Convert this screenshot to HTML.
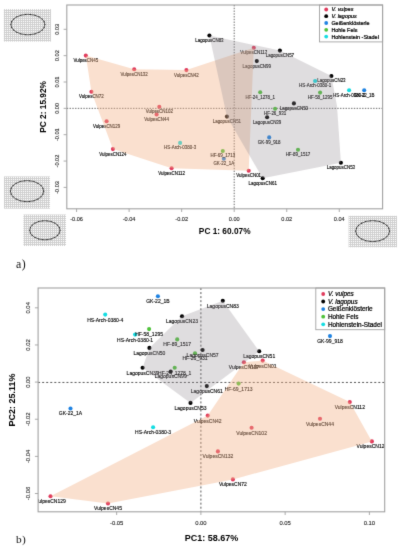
<!DOCTYPE html><html><head><meta charset="utf-8"><style>html,body{margin:0;padding:0;background:#fff;}svg{display:block;will-change:transform;}</style></head><body>
<svg width="399" height="550" viewBox="0 0 399 550">
<defs><pattern id="grid" width="2" height="2" patternUnits="userSpaceOnUse"><rect width="2" height="2" fill="#fff"/><path d="M0 0.5H2M0.5 0V2" stroke="#d0d0d0" stroke-width="1"/></pattern></defs>
<filter id="bl" x="0" y="0" width="399" height="550" filterUnits="userSpaceOnUse" color-interpolation-filters="sRGB"><feConvolveMatrix order="3" kernelMatrix="0.016 0.125 0.016 0.125 1 0.125 0.016 0.125 0.016" edgeMode="duplicate" preserveAlpha="true"/></filter>
<rect width="399" height="550" fill="#fff"/><g filter="url(#bl)"><rect width="399" height="550" fill="#fff"/>
<rect x="3.8" y="9.1" width="47.2" height="32.5" fill="url(#grid)" />
<ellipse cx="27.9" cy="24.549999999999997" rx="17.0" ry="10.249999999999998" fill="none" stroke="#333" stroke-width="0.75"/>
<circle cx="44.90" cy="24.55" r="0.55" fill="#222"/>
<circle cx="44.21" cy="27.44" r="0.55" fill="#222"/>
<circle cx="42.20" cy="30.09" r="0.55" fill="#222"/>
<circle cx="39.03" cy="32.30" r="0.55" fill="#222"/>
<circle cx="34.96" cy="33.87" r="0.55" fill="#222"/>
<circle cx="30.32" cy="34.70" r="0.55" fill="#222"/>
<circle cx="25.48" cy="34.70" r="0.55" fill="#222"/>
<circle cx="20.84" cy="33.87" r="0.55" fill="#222"/>
<circle cx="16.77" cy="32.30" r="0.55" fill="#222"/>
<circle cx="13.60" cy="30.09" r="0.55" fill="#222"/>
<circle cx="11.59" cy="27.44" r="0.55" fill="#222"/>
<circle cx="10.90" cy="24.55" r="0.55" fill="#222"/>
<circle cx="11.59" cy="21.66" r="0.55" fill="#222"/>
<circle cx="13.60" cy="19.01" r="0.55" fill="#222"/>
<circle cx="16.77" cy="16.80" r="0.55" fill="#222"/>
<circle cx="20.84" cy="15.23" r="0.55" fill="#222"/>
<circle cx="25.48" cy="14.40" r="0.55" fill="#222"/>
<circle cx="30.32" cy="14.40" r="0.55" fill="#222"/>
<circle cx="34.96" cy="15.23" r="0.55" fill="#222"/>
<circle cx="39.03" cy="16.80" r="0.55" fill="#222"/>
<circle cx="42.20" cy="19.01" r="0.55" fill="#222"/>
<circle cx="44.21" cy="21.66" r="0.55" fill="#222"/>
<rect x="4" y="176.4" width="46" height="32.29999999999998" fill="url(#grid)" />
<ellipse cx="27.05" cy="191.14999999999998" rx="16.650000000000002" ry="10.549999999999997" fill="none" stroke="#333" stroke-width="0.75"/>
<circle cx="43.70" cy="191.15" r="0.55" fill="#222"/>
<circle cx="43.03" cy="194.12" r="0.55" fill="#222"/>
<circle cx="41.06" cy="196.85" r="0.55" fill="#222"/>
<circle cx="37.95" cy="199.12" r="0.55" fill="#222"/>
<circle cx="33.97" cy="200.75" r="0.55" fill="#222"/>
<circle cx="29.42" cy="201.59" r="0.55" fill="#222"/>
<circle cx="24.68" cy="201.59" r="0.55" fill="#222"/>
<circle cx="20.13" cy="200.75" r="0.55" fill="#222"/>
<circle cx="16.15" cy="199.12" r="0.55" fill="#222"/>
<circle cx="13.04" cy="196.85" r="0.55" fill="#222"/>
<circle cx="11.07" cy="194.12" r="0.55" fill="#222"/>
<circle cx="10.40" cy="191.15" r="0.55" fill="#222"/>
<circle cx="11.07" cy="188.18" r="0.55" fill="#222"/>
<circle cx="13.04" cy="185.45" r="0.55" fill="#222"/>
<circle cx="16.15" cy="183.18" r="0.55" fill="#222"/>
<circle cx="20.13" cy="181.55" r="0.55" fill="#222"/>
<circle cx="24.68" cy="180.71" r="0.55" fill="#222"/>
<circle cx="29.42" cy="180.71" r="0.55" fill="#222"/>
<circle cx="33.97" cy="181.55" r="0.55" fill="#222"/>
<circle cx="37.95" cy="183.18" r="0.55" fill="#222"/>
<circle cx="41.06" cy="185.45" r="0.55" fill="#222"/>
<circle cx="43.03" cy="188.18" r="0.55" fill="#222"/>
<rect x="23.4" y="214.5" width="42.6" height="31.5" fill="url(#grid)" />
<ellipse cx="44.85" cy="230.25" rx="15.15" ry="9.550000000000011" fill="none" stroke="#333" stroke-width="0.75"/>
<circle cx="60.00" cy="230.25" r="0.55" fill="#222"/>
<circle cx="59.39" cy="232.94" r="0.55" fill="#222"/>
<circle cx="57.59" cy="235.41" r="0.55" fill="#222"/>
<circle cx="54.77" cy="237.47" r="0.55" fill="#222"/>
<circle cx="51.14" cy="238.94" r="0.55" fill="#222"/>
<circle cx="47.01" cy="239.70" r="0.55" fill="#222"/>
<circle cx="42.69" cy="239.70" r="0.55" fill="#222"/>
<circle cx="38.56" cy="238.94" r="0.55" fill="#222"/>
<circle cx="34.93" cy="237.47" r="0.55" fill="#222"/>
<circle cx="32.11" cy="235.41" r="0.55" fill="#222"/>
<circle cx="30.31" cy="232.94" r="0.55" fill="#222"/>
<circle cx="29.70" cy="230.25" r="0.55" fill="#222"/>
<circle cx="30.31" cy="227.56" r="0.55" fill="#222"/>
<circle cx="32.11" cy="225.09" r="0.55" fill="#222"/>
<circle cx="34.93" cy="223.03" r="0.55" fill="#222"/>
<circle cx="38.56" cy="221.56" r="0.55" fill="#222"/>
<circle cx="42.69" cy="220.80" r="0.55" fill="#222"/>
<circle cx="47.01" cy="220.80" r="0.55" fill="#222"/>
<circle cx="51.14" cy="221.56" r="0.55" fill="#222"/>
<circle cx="54.77" cy="223.03" r="0.55" fill="#222"/>
<circle cx="57.59" cy="225.09" r="0.55" fill="#222"/>
<circle cx="59.39" cy="227.56" r="0.55" fill="#222"/>
<rect x="348.6" y="215.8" width="48.39999999999998" height="31.5" fill="url(#grid)" />
<ellipse cx="372.65" cy="231.1" rx="16.950000000000017" ry="10.5" fill="none" stroke="#333" stroke-width="0.75"/>
<circle cx="389.60" cy="231.10" r="0.55" fill="#222"/>
<circle cx="388.91" cy="234.06" r="0.55" fill="#222"/>
<circle cx="386.91" cy="236.78" r="0.55" fill="#222"/>
<circle cx="383.75" cy="239.04" r="0.55" fill="#222"/>
<circle cx="379.69" cy="240.65" r="0.55" fill="#222"/>
<circle cx="375.06" cy="241.49" r="0.55" fill="#222"/>
<circle cx="370.24" cy="241.49" r="0.55" fill="#222"/>
<circle cx="365.61" cy="240.65" r="0.55" fill="#222"/>
<circle cx="361.55" cy="239.04" r="0.55" fill="#222"/>
<circle cx="358.39" cy="236.78" r="0.55" fill="#222"/>
<circle cx="356.39" cy="234.06" r="0.55" fill="#222"/>
<circle cx="355.70" cy="231.10" r="0.55" fill="#222"/>
<circle cx="356.39" cy="228.14" r="0.55" fill="#222"/>
<circle cx="358.39" cy="225.42" r="0.55" fill="#222"/>
<circle cx="361.55" cy="223.16" r="0.55" fill="#222"/>
<circle cx="365.61" cy="221.55" r="0.55" fill="#222"/>
<circle cx="370.24" cy="220.71" r="0.55" fill="#222"/>
<circle cx="375.06" cy="220.71" r="0.55" fill="#222"/>
<circle cx="379.69" cy="221.55" r="0.55" fill="#222"/>
<circle cx="383.75" cy="223.16" r="0.55" fill="#222"/>
<circle cx="386.91" cy="225.42" r="0.55" fill="#222"/>
<circle cx="388.91" cy="228.14" r="0.55" fill="#222"/>
<defs><clipPath id="clipA"><rect x="66.8" y="5.0" width="315.8" height="203.8"/></clipPath></defs>
<g clip-path="url(#clipA)">
<line x1="66.8" y1="108.35" x2="382.6" y2="108.35" stroke="#444444" stroke-width="0.8" stroke-dasharray="1.4 1.36"/>
<line x1="234.2" y1="5.0" x2="234.2" y2="208.8" stroke="#444444" stroke-width="0.8" stroke-dasharray="1.4 1.36"/>
<circle cx="85.8" cy="55.6" r="2.05" fill="#E03A5C"/>
<circle cx="134.2" cy="69.2" r="2.05" fill="#E03A5C"/>
<circle cx="186.4" cy="70.1" r="2.05" fill="#E03A5C"/>
<circle cx="253.8" cy="47.8" r="2.05" fill="#E03A5C"/>
<circle cx="91.4" cy="91.7" r="2.05" fill="#E03A5C"/>
<circle cx="159.3" cy="106.8" r="2.05" fill="#E03A5C"/>
<circle cx="156.6" cy="114.5" r="2.05" fill="#E03A5C"/>
<circle cx="106.6" cy="121.3" r="2.05" fill="#E03A5C"/>
<circle cx="112.9" cy="149.1" r="2.05" fill="#E03A5C"/>
<circle cx="171.6" cy="168.2" r="2.05" fill="#E03A5C"/>
<circle cx="248.7" cy="170.7" r="2.05" fill="#E03A5C"/>
<circle cx="209.4" cy="35.5" r="2.05" fill="#000000"/>
<circle cx="279.9" cy="50.6" r="2.05" fill="#000000"/>
<circle cx="256.8" cy="61.1" r="2.05" fill="#000000"/>
<circle cx="331.4" cy="76.0" r="2.05" fill="#000000"/>
<circle cx="293.9" cy="103.4" r="2.05" fill="#000000"/>
<circle cx="267.1" cy="117.2" r="2.05" fill="#000000"/>
<circle cx="226.9" cy="116.6" r="2.05" fill="#000000"/>
<circle cx="262.7" cy="178.2" r="2.05" fill="#000000"/>
<circle cx="340.9" cy="162.8" r="2.05" fill="#000000"/>
<circle cx="364.2" cy="90.3" r="2.05" fill="#1E82E2"/>
<circle cx="269.2" cy="137.4" r="2.05" fill="#1E82E2"/>
<circle cx="223.8" cy="158.8" r="2.05" fill="#1E82E2"/>
<circle cx="260.2" cy="92.2" r="2.05" fill="#4EC23A"/>
<circle cx="320.1" cy="92.6" r="2.05" fill="#4EC23A"/>
<circle cx="275.1" cy="108.7" r="2.05" fill="#4EC23A"/>
<circle cx="222.8" cy="151.0" r="2.05" fill="#4EC23A"/>
<circle cx="298.0" cy="149.7" r="2.05" fill="#4EC23A"/>
<circle cx="315.1" cy="81.0" r="2.05" fill="#14DDE2"/>
<circle cx="349.1" cy="90.3" r="2.05" fill="#14DDE2"/>
<circle cx="180.1" cy="142.9" r="2.05" fill="#14DDE2"/>
<text x="85.80" y="62.00" font-family="Liberation Sans" font-size="4.45" text-anchor="middle" font-weight="normal" font-style="normal" fill="#000" stroke="#000" stroke-width="0.12">VulpesCN45</text>
<text x="134.20" y="75.60" font-family="Liberation Sans" font-size="4.45" text-anchor="middle" font-weight="normal" font-style="normal" fill="#000" stroke="#000" stroke-width="0.12">VulpesCN132</text>
<text x="186.40" y="76.50" font-family="Liberation Sans" font-size="4.45" text-anchor="middle" font-weight="normal" font-style="normal" fill="#000" stroke="#000" stroke-width="0.12">VulpesCN42</text>
<text x="253.80" y="54.20" font-family="Liberation Sans" font-size="4.45" text-anchor="middle" font-weight="normal" font-style="normal" fill="#000" stroke="#000" stroke-width="0.12">VulpesCN117</text>
<text x="91.40" y="98.10" font-family="Liberation Sans" font-size="4.45" text-anchor="middle" font-weight="normal" font-style="normal" fill="#000" stroke="#000" stroke-width="0.12">VulpesCN72</text>
<text x="159.30" y="113.20" font-family="Liberation Sans" font-size="4.45" text-anchor="middle" font-weight="normal" font-style="normal" fill="#000" stroke="#000" stroke-width="0.12">VulpesCN102</text>
<text x="156.60" y="120.90" font-family="Liberation Sans" font-size="4.45" text-anchor="middle" font-weight="normal" font-style="normal" fill="#000" stroke="#000" stroke-width="0.12">VulpesCN44</text>
<text x="106.60" y="127.70" font-family="Liberation Sans" font-size="4.45" text-anchor="middle" font-weight="normal" font-style="normal" fill="#000" stroke="#000" stroke-width="0.12">VulpesCN129</text>
<text x="112.90" y="155.50" font-family="Liberation Sans" font-size="4.45" text-anchor="middle" font-weight="normal" font-style="normal" fill="#000" stroke="#000" stroke-width="0.12">VulpesCN124</text>
<text x="171.60" y="174.60" font-family="Liberation Sans" font-size="4.45" text-anchor="middle" font-weight="normal" font-style="normal" fill="#000" stroke="#000" stroke-width="0.12">VulpesCN112</text>
<text x="248.70" y="177.10" font-family="Liberation Sans" font-size="4.45" text-anchor="middle" font-weight="normal" font-style="normal" fill="#000" stroke="#000" stroke-width="0.12">VulpesCN01</text>
<text x="209.40" y="41.90" font-family="Liberation Sans" font-size="4.45" text-anchor="middle" font-weight="normal" font-style="normal" fill="#000" stroke="#000" stroke-width="0.12">LagopusCN83</text>
<text x="279.90" y="57.00" font-family="Liberation Sans" font-size="4.45" text-anchor="middle" font-weight="normal" font-style="normal" fill="#000" stroke="#000" stroke-width="0.12">LagopusCN57</text>
<text x="256.80" y="67.50" font-family="Liberation Sans" font-size="4.45" text-anchor="middle" font-weight="normal" font-style="normal" fill="#000" stroke="#000" stroke-width="0.12">LagopusCN99</text>
<text x="331.40" y="82.40" font-family="Liberation Sans" font-size="4.45" text-anchor="middle" font-weight="normal" font-style="normal" fill="#000" stroke="#000" stroke-width="0.12">LagopusCN23</text>
<text x="293.90" y="109.80" font-family="Liberation Sans" font-size="4.45" text-anchor="middle" font-weight="normal" font-style="normal" fill="#000" stroke="#000" stroke-width="0.12">LagopusCN50</text>
<text x="267.10" y="123.60" font-family="Liberation Sans" font-size="4.45" text-anchor="middle" font-weight="normal" font-style="normal" fill="#000" stroke="#000" stroke-width="0.12">LagopusCN39</text>
<text x="226.90" y="123.00" font-family="Liberation Sans" font-size="4.45" text-anchor="middle" font-weight="normal" font-style="normal" fill="#000" stroke="#000" stroke-width="0.12">LagopusCN51</text>
<text x="262.70" y="184.60" font-family="Liberation Sans" font-size="4.45" text-anchor="middle" font-weight="normal" font-style="normal" fill="#000" stroke="#000" stroke-width="0.12">LagopusCN61</text>
<text x="340.90" y="169.20" font-family="Liberation Sans" font-size="4.45" text-anchor="middle" font-weight="normal" font-style="normal" fill="#000" stroke="#000" stroke-width="0.12">LagopusCN53</text>
<text x="364.20" y="96.70" font-family="Liberation Sans" font-size="4.45" text-anchor="middle" font-weight="normal" font-style="normal" fill="#000" stroke="#000" stroke-width="0.12">GK-22_1B</text>
<text x="269.20" y="143.80" font-family="Liberation Sans" font-size="4.45" text-anchor="middle" font-weight="normal" font-style="normal" fill="#000" stroke="#000" stroke-width="0.12">GK-99_918</text>
<text x="223.80" y="165.20" font-family="Liberation Sans" font-size="4.45" text-anchor="middle" font-weight="normal" font-style="normal" fill="#000" stroke="#000" stroke-width="0.12">GK-22_1A</text>
<text x="260.20" y="98.60" font-family="Liberation Sans" font-size="4.45" text-anchor="middle" font-weight="normal" font-style="normal" fill="#000" stroke="#000" stroke-width="0.12">HF-24_1278_1</text>
<text x="320.10" y="99.00" font-family="Liberation Sans" font-size="4.45" text-anchor="middle" font-weight="normal" font-style="normal" fill="#000" stroke="#000" stroke-width="0.12">HF-58_1295</text>
<text x="275.10" y="115.10" font-family="Liberation Sans" font-size="4.45" text-anchor="middle" font-weight="normal" font-style="normal" fill="#000" stroke="#000" stroke-width="0.12">HF-26_931</text>
<text x="222.80" y="157.40" font-family="Liberation Sans" font-size="4.45" text-anchor="middle" font-weight="normal" font-style="normal" fill="#000" stroke="#000" stroke-width="0.12">HF-69_1713</text>
<text x="298.00" y="156.10" font-family="Liberation Sans" font-size="4.45" text-anchor="middle" font-weight="normal" font-style="normal" fill="#000" stroke="#000" stroke-width="0.12">HF-89_1517</text>
<text x="315.10" y="87.40" font-family="Liberation Sans" font-size="4.45" text-anchor="middle" font-weight="normal" font-style="normal" fill="#000" stroke="#000" stroke-width="0.12">HS-Arch-0380-1</text>
<text x="349.10" y="96.70" font-family="Liberation Sans" font-size="4.45" text-anchor="middle" font-weight="normal" font-style="normal" fill="#000" stroke="#000" stroke-width="0.12">HS-Arch-0380-2</text>
<text x="180.10" y="149.30" font-family="Liberation Sans" font-size="4.45" text-anchor="middle" font-weight="normal" font-style="normal" fill="#000" stroke="#000" stroke-width="0.12">HS-Arch-0380-3</text>
<polygon points="85.8,55.6 134.2,69.2 186.4,70.1 253.8,47.8 248.7,170.7 171.6,168.2 112.9,149.1 91.4,91.7" fill="#F2B187" fill-opacity="0.4"/>
<polygon points="209.4,35.5 279.9,50.6 331.4,76.0 337.0,106.0 340.9,162.8 262.7,178.2 226.9,116.6" fill="#948E94" fill-opacity="0.3"/>
</g>
<rect x="319.5" y="5.0" width="63.10000000000002" height="36.9" fill="#fff" stroke="#a2a2a2" stroke-width="0.9"/>
<circle cx="326.2" cy="9.5" r="1.9" fill="#E03A5C"/>
<text x="331.40" y="11.46" font-family="Liberation Sans" font-size="5.45" text-anchor="start" font-weight="normal" font-style="italic" fill="#000" stroke="#000" stroke-width="0.22">V. vulpes</text>
<circle cx="326.2" cy="16.2" r="1.9" fill="#000000"/>
<text x="331.40" y="18.16" font-family="Liberation Sans" font-size="5.45" text-anchor="start" font-weight="normal" font-style="italic" fill="#000" stroke="#000" stroke-width="0.22">V. lagopus</text>
<circle cx="326.2" cy="23.0" r="1.9" fill="#1E82E2"/>
<text x="331.40" y="24.96" font-family="Liberation Sans" font-size="5.45" text-anchor="start" font-weight="normal" font-style="normal" fill="#000" stroke="#000" stroke-width="0.22">Geißenklösterle</text>
<circle cx="326.2" cy="29.8" r="1.9" fill="#4EC23A"/>
<text x="331.40" y="31.76" font-family="Liberation Sans" font-size="5.45" text-anchor="start" font-weight="normal" font-style="normal" fill="#000" stroke="#000" stroke-width="0.22">Hohle Fels</text>
<circle cx="326.2" cy="36.6" r="1.9" fill="#14DDE2"/>
<text x="331.40" y="38.56" font-family="Liberation Sans" font-size="5.45" text-anchor="start" font-weight="normal" font-style="normal" fill="#000" stroke="#000" stroke-width="0.22">Hohlenstein -Stadel</text>
<rect x="66.8" y="5.0" width="315.8" height="203.8" fill="none" stroke="#a2a2a2" stroke-width="1.1"/>
<line x1="76.58" y1="208.8" x2="76.58" y2="212.0" stroke="#a2a2a2" stroke-width="0.9"/>
<text x="76.58" y="220.82" font-family="Liberation Sans" font-size="5.6" text-anchor="middle" font-weight="normal" font-style="normal" fill="#222" stroke="#222" stroke-width="0.1">-0.06</text>
<line x1="129.12" y1="208.8" x2="129.12" y2="212.0" stroke="#a2a2a2" stroke-width="0.9"/>
<text x="129.12" y="220.82" font-family="Liberation Sans" font-size="5.6" text-anchor="middle" font-weight="normal" font-style="normal" fill="#222" stroke="#222" stroke-width="0.1">-0.04</text>
<line x1="181.66" y1="208.8" x2="181.66" y2="212.0" stroke="#a2a2a2" stroke-width="0.9"/>
<text x="181.66" y="220.82" font-family="Liberation Sans" font-size="5.6" text-anchor="middle" font-weight="normal" font-style="normal" fill="#222" stroke="#222" stroke-width="0.1">-0.02</text>
<line x1="234.20" y1="208.8" x2="234.20" y2="212.0" stroke="#a2a2a2" stroke-width="0.9"/>
<text x="234.20" y="220.82" font-family="Liberation Sans" font-size="5.6" text-anchor="middle" font-weight="normal" font-style="normal" fill="#222" stroke="#222" stroke-width="0.1">0.00</text>
<line x1="286.74" y1="208.8" x2="286.74" y2="212.0" stroke="#a2a2a2" stroke-width="0.9"/>
<text x="286.74" y="220.82" font-family="Liberation Sans" font-size="5.6" text-anchor="middle" font-weight="normal" font-style="normal" fill="#222" stroke="#222" stroke-width="0.1">0.02</text>
<line x1="339.28" y1="208.8" x2="339.28" y2="212.0" stroke="#a2a2a2" stroke-width="0.9"/>
<text x="339.28" y="220.82" font-family="Liberation Sans" font-size="5.6" text-anchor="middle" font-weight="normal" font-style="normal" fill="#222" stroke="#222" stroke-width="0.1">0.04</text>
<line x1="63.599999999999994" y1="29.30" x2="66.8" y2="29.30" stroke="#a2a2a2" stroke-width="0.9"/>
<text x="59.42" y="29.30" font-family="Liberation Sans" font-size="5.6" text-anchor="middle" font-weight="normal" font-style="normal" fill="#222" stroke="#222" stroke-width="0.1" transform="rotate(-90 59.416 29.299999999999997)">0.03</text>
<line x1="63.599999999999994" y1="55.65" x2="66.8" y2="55.65" stroke="#a2a2a2" stroke-width="0.9"/>
<text x="59.42" y="55.65" font-family="Liberation Sans" font-size="5.6" text-anchor="middle" font-weight="normal" font-style="normal" fill="#222" stroke="#222" stroke-width="0.1" transform="rotate(-90 59.416 55.64999999999999)">0.02</text>
<line x1="63.599999999999994" y1="82.00" x2="66.8" y2="82.00" stroke="#a2a2a2" stroke-width="0.9"/>
<text x="59.42" y="82.00" font-family="Liberation Sans" font-size="5.6" text-anchor="middle" font-weight="normal" font-style="normal" fill="#222" stroke="#222" stroke-width="0.1" transform="rotate(-90 59.416 82.0)">0.01</text>
<line x1="63.599999999999994" y1="108.35" x2="66.8" y2="108.35" stroke="#a2a2a2" stroke-width="0.9"/>
<text x="59.42" y="108.35" font-family="Liberation Sans" font-size="5.6" text-anchor="middle" font-weight="normal" font-style="normal" fill="#222" stroke="#222" stroke-width="0.1" transform="rotate(-90 59.416 108.35)">0.00</text>
<line x1="63.599999999999994" y1="134.70" x2="66.8" y2="134.70" stroke="#a2a2a2" stroke-width="0.9"/>
<text x="59.42" y="134.70" font-family="Liberation Sans" font-size="5.6" text-anchor="middle" font-weight="normal" font-style="normal" fill="#222" stroke="#222" stroke-width="0.1" transform="rotate(-90 59.416 134.7)">-0.01</text>
<line x1="63.599999999999994" y1="161.05" x2="66.8" y2="161.05" stroke="#a2a2a2" stroke-width="0.9"/>
<text x="59.42" y="161.05" font-family="Liberation Sans" font-size="5.6" text-anchor="middle" font-weight="normal" font-style="normal" fill="#222" stroke="#222" stroke-width="0.1" transform="rotate(-90 59.416 161.05)">-0.02</text>
<line x1="63.599999999999994" y1="187.40" x2="66.8" y2="187.40" stroke="#a2a2a2" stroke-width="0.9"/>
<text x="59.42" y="187.40" font-family="Liberation Sans" font-size="5.6" text-anchor="middle" font-weight="normal" font-style="normal" fill="#222" stroke="#222" stroke-width="0.1" transform="rotate(-90 59.416 187.39999999999998)">-0.03</text>
<text x="224.70" y="233.99" font-family="Liberation Sans" font-size="8.3" text-anchor="middle" font-weight="bold" font-style="normal" fill="#000">PC 1: 60.07%</text>
<text x="45.59" y="106.90" font-family="Liberation Sans" font-size="8.3" text-anchor="middle" font-weight="bold" font-style="normal" fill="#000" transform="rotate(-90 45.588 106.9)">PC 2: 15.92%</text>
<defs><clipPath id="clipB"><rect x="38.1" y="288.0" width="346.59999999999997" height="223.8"/></clipPath></defs>
<g clip-path="url(#clipB)">
<line x1="38.1" y1="382.45" x2="384.7" y2="382.45" stroke="#444444" stroke-width="0.9" stroke-dasharray="2.0 2.05"/>
<line x1="200.9" y1="288.0" x2="200.9" y2="511.8" stroke="#444444" stroke-width="0.9" stroke-dasharray="2.0 2.05"/>
<circle cx="50.5" cy="496.3" r="2.05" fill="#E03A5C"/>
<circle cx="108.0" cy="503.5" r="2.05" fill="#E03A5C"/>
<circle cx="232.9" cy="479.4" r="2.05" fill="#E03A5C"/>
<circle cx="217.9" cy="451.4" r="2.05" fill="#E03A5C"/>
<circle cx="207.7" cy="415.6" r="2.05" fill="#E03A5C"/>
<circle cx="251.6" cy="427.7" r="2.05" fill="#E03A5C"/>
<circle cx="320.0" cy="418.8" r="2.05" fill="#E03A5C"/>
<circle cx="349.8" cy="402.1" r="2.05" fill="#E03A5C"/>
<circle cx="371.9" cy="441.4" r="2.05" fill="#E03A5C"/>
<circle cx="243.9" cy="362.3" r="2.05" fill="#E03A5C"/>
<circle cx="262.7" cy="360.6" r="2.05" fill="#E03A5C"/>
<circle cx="222.8" cy="300.7" r="2.05" fill="#000000"/>
<circle cx="182.0" cy="316.3" r="2.05" fill="#000000"/>
<circle cx="149.4" cy="347.9" r="2.05" fill="#000000"/>
<circle cx="142.6" cy="367.7" r="2.05" fill="#000000"/>
<circle cx="170.7" cy="371.5" r="2.05" fill="#000000"/>
<circle cx="202.6" cy="350.0" r="2.05" fill="#000000"/>
<circle cx="259.2" cy="351.3" r="2.05" fill="#000000"/>
<circle cx="206.8" cy="386.1" r="2.05" fill="#000000"/>
<circle cx="190.5" cy="402.9" r="2.05" fill="#000000"/>
<circle cx="157.9" cy="296.3" r="2.05" fill="#1E82E2"/>
<circle cx="330.0" cy="336.1" r="2.05" fill="#1E82E2"/>
<circle cx="70.5" cy="408.5" r="2.05" fill="#1E82E2"/>
<circle cx="149.1" cy="329.1" r="2.05" fill="#4EC23A"/>
<circle cx="177.2" cy="339.4" r="2.05" fill="#4EC23A"/>
<circle cx="195.0" cy="353.3" r="2.05" fill="#4EC23A"/>
<circle cx="174.7" cy="367.7" r="2.05" fill="#4EC23A"/>
<circle cx="238.6" cy="383.6" r="2.05" fill="#4EC23A"/>
<circle cx="105.2" cy="314.6" r="2.05" fill="#14DDE2"/>
<circle cx="135.1" cy="334.6" r="2.05" fill="#14DDE2"/>
<circle cx="153.1" cy="427.3" r="2.05" fill="#14DDE2"/>
<text x="50.50" y="503.20" font-family="Liberation Sans" font-size="5.0" text-anchor="middle" font-weight="normal" font-style="normal" fill="#000" stroke="#000" stroke-width="0.12">VulpesCN129</text>
<text x="108.00" y="510.40" font-family="Liberation Sans" font-size="5.0" text-anchor="middle" font-weight="normal" font-style="normal" fill="#000" stroke="#000" stroke-width="0.12">VulpesCN45</text>
<text x="232.90" y="486.30" font-family="Liberation Sans" font-size="5.0" text-anchor="middle" font-weight="normal" font-style="normal" fill="#000" stroke="#000" stroke-width="0.12">VulpesCN72</text>
<text x="217.90" y="458.30" font-family="Liberation Sans" font-size="5.0" text-anchor="middle" font-weight="normal" font-style="normal" fill="#000" stroke="#000" stroke-width="0.12">VulpesCN132</text>
<text x="207.70" y="422.50" font-family="Liberation Sans" font-size="5.0" text-anchor="middle" font-weight="normal" font-style="normal" fill="#000" stroke="#000" stroke-width="0.12">VulpesCN42</text>
<text x="251.60" y="434.60" font-family="Liberation Sans" font-size="5.0" text-anchor="middle" font-weight="normal" font-style="normal" fill="#000" stroke="#000" stroke-width="0.12">VulpesCN102</text>
<text x="320.00" y="425.70" font-family="Liberation Sans" font-size="5.0" text-anchor="middle" font-weight="normal" font-style="normal" fill="#000" stroke="#000" stroke-width="0.12">VulpesCN44</text>
<text x="349.80" y="409.00" font-family="Liberation Sans" font-size="5.0" text-anchor="middle" font-weight="normal" font-style="normal" fill="#000" stroke="#000" stroke-width="0.12">VulpesCN112</text>
<text x="371.90" y="448.30" font-family="Liberation Sans" font-size="5.0" text-anchor="middle" font-weight="normal" font-style="normal" fill="#000" stroke="#000" stroke-width="0.12">VulpesCN124</text>
<text x="243.90" y="369.20" font-family="Liberation Sans" font-size="5.0" text-anchor="middle" font-weight="normal" font-style="normal" fill="#000" stroke="#000" stroke-width="0.12">VulpesCN117</text>
<text x="262.70" y="367.50" font-family="Liberation Sans" font-size="5.0" text-anchor="middle" font-weight="normal" font-style="normal" fill="#000" stroke="#000" stroke-width="0.12">VulpesCN01</text>
<text x="222.80" y="307.60" font-family="Liberation Sans" font-size="5.0" text-anchor="middle" font-weight="normal" font-style="normal" fill="#000" stroke="#000" stroke-width="0.12">LagopusCN83</text>
<text x="182.00" y="323.20" font-family="Liberation Sans" font-size="5.0" text-anchor="middle" font-weight="normal" font-style="normal" fill="#000" stroke="#000" stroke-width="0.12">LagopusCN23</text>
<text x="149.40" y="354.80" font-family="Liberation Sans" font-size="5.0" text-anchor="middle" font-weight="normal" font-style="normal" fill="#000" stroke="#000" stroke-width="0.12">LagopusCN50</text>
<text x="142.60" y="374.60" font-family="Liberation Sans" font-size="5.0" text-anchor="middle" font-weight="normal" font-style="normal" fill="#000" stroke="#000" stroke-width="0.12">LagopusCN39</text>
<text x="170.70" y="378.40" font-family="Liberation Sans" font-size="5.0" text-anchor="middle" font-weight="normal" font-style="normal" fill="#000" stroke="#000" stroke-width="0.12">LagopusCN99</text>
<text x="202.60" y="356.90" font-family="Liberation Sans" font-size="5.0" text-anchor="middle" font-weight="normal" font-style="normal" fill="#000" stroke="#000" stroke-width="0.12">LagopusCN57</text>
<text x="259.20" y="358.20" font-family="Liberation Sans" font-size="5.0" text-anchor="middle" font-weight="normal" font-style="normal" fill="#000" stroke="#000" stroke-width="0.12">LagopusCN51</text>
<text x="206.80" y="393.00" font-family="Liberation Sans" font-size="5.0" text-anchor="middle" font-weight="normal" font-style="normal" fill="#000" stroke="#000" stroke-width="0.12">LagopusCN61</text>
<text x="190.50" y="409.80" font-family="Liberation Sans" font-size="5.0" text-anchor="middle" font-weight="normal" font-style="normal" fill="#000" stroke="#000" stroke-width="0.12">LagopusCN53</text>
<text x="157.90" y="303.20" font-family="Liberation Sans" font-size="5.0" text-anchor="middle" font-weight="normal" font-style="normal" fill="#000" stroke="#000" stroke-width="0.12">GK-22_1B</text>
<text x="330.00" y="343.00" font-family="Liberation Sans" font-size="5.0" text-anchor="middle" font-weight="normal" font-style="normal" fill="#000" stroke="#000" stroke-width="0.12">GK-99_918</text>
<text x="70.50" y="415.40" font-family="Liberation Sans" font-size="5.0" text-anchor="middle" font-weight="normal" font-style="normal" fill="#000" stroke="#000" stroke-width="0.12">GK-22_1A</text>
<text x="149.10" y="336.00" font-family="Liberation Sans" font-size="5.0" text-anchor="middle" font-weight="normal" font-style="normal" fill="#000" stroke="#000" stroke-width="0.12">HF-58_1295</text>
<text x="177.20" y="346.30" font-family="Liberation Sans" font-size="5.0" text-anchor="middle" font-weight="normal" font-style="normal" fill="#000" stroke="#000" stroke-width="0.12">HF-89_1517</text>
<text x="195.00" y="360.20" font-family="Liberation Sans" font-size="5.0" text-anchor="middle" font-weight="normal" font-style="normal" fill="#000" stroke="#000" stroke-width="0.12">HF-26_931</text>
<text x="174.70" y="374.60" font-family="Liberation Sans" font-size="5.0" text-anchor="middle" font-weight="normal" font-style="normal" fill="#000" stroke="#000" stroke-width="0.12">HF-24_1278_1</text>
<text x="238.60" y="390.50" font-family="Liberation Sans" font-size="5.0" text-anchor="middle" font-weight="normal" font-style="normal" fill="#000" stroke="#000" stroke-width="0.12">HF-69_1713</text>
<text x="105.20" y="321.50" font-family="Liberation Sans" font-size="5.0" text-anchor="middle" font-weight="normal" font-style="normal" fill="#000" stroke="#000" stroke-width="0.12">HS-Arch-0380-4</text>
<text x="135.10" y="341.50" font-family="Liberation Sans" font-size="5.0" text-anchor="middle" font-weight="normal" font-style="normal" fill="#000" stroke="#000" stroke-width="0.12">HS-Arch-0380-1</text>
<text x="153.10" y="434.20" font-family="Liberation Sans" font-size="5.0" text-anchor="middle" font-weight="normal" font-style="normal" fill="#000" stroke="#000" stroke-width="0.12">HS-Arch-0380-3</text>
<polygon points="50.5,496.3 207.7,415.6 243.9,362.3 262.7,360.6 349.8,402.1 371.9,441.4 232.9,479.4 108.0,503.5" fill="#F2B187" fill-opacity="0.4"/>
<polygon points="222.8,300.7 259.2,351.3 190.5,402.9 142.6,367.7 149.4,347.9 182.0,316.3" fill="#948E94" fill-opacity="0.3"/>
</g>
<rect x="315.8" y="288.0" width="68.89999999999998" height="41.69999999999999" fill="#fff" stroke="#a2a2a2" stroke-width="0.9"/>
<circle cx="323.2" cy="294.0" r="1.9" fill="#E03A5C"/>
<text x="327.90" y="296.30" font-family="Liberation Sans" font-size="6.4" text-anchor="start" font-weight="normal" font-style="italic" fill="#000" stroke="#000" stroke-width="0.22">V. vulpes</text>
<circle cx="323.2" cy="301.5" r="1.9" fill="#000000"/>
<text x="327.90" y="303.80" font-family="Liberation Sans" font-size="6.4" text-anchor="start" font-weight="normal" font-style="italic" fill="#000" stroke="#000" stroke-width="0.22">V. lagopus</text>
<circle cx="323.2" cy="309.1" r="1.9" fill="#1E82E2"/>
<text x="327.90" y="311.40" font-family="Liberation Sans" font-size="6.4" text-anchor="start" font-weight="normal" font-style="normal" fill="#000" stroke="#000" stroke-width="0.22">Geißenklösterle</text>
<circle cx="323.2" cy="316.7" r="1.9" fill="#4EC23A"/>
<text x="327.90" y="319.00" font-family="Liberation Sans" font-size="6.4" text-anchor="start" font-weight="normal" font-style="normal" fill="#000" stroke="#000" stroke-width="0.22">Hohle Fels</text>
<circle cx="323.2" cy="324.3" r="1.9" fill="#14DDE2"/>
<text x="327.90" y="326.60" font-family="Liberation Sans" font-size="6.4" text-anchor="start" font-weight="normal" font-style="normal" fill="#000" stroke="#000" stroke-width="0.22">Hohlenstein-Stadel</text>
<rect x="38.1" y="288.0" width="346.59999999999997" height="223.8" fill="none" stroke="#a2a2a2" stroke-width="1.1"/>
<line x1="116.65" y1="511.8" x2="116.65" y2="515.0" stroke="#a2a2a2" stroke-width="0.9"/>
<text x="116.65" y="524.92" font-family="Liberation Sans" font-size="5.9" text-anchor="middle" font-weight="normal" font-style="normal" fill="#222" stroke="#222" stroke-width="0.1">-0.05</text>
<line x1="200.90" y1="511.8" x2="200.90" y2="515.0" stroke="#a2a2a2" stroke-width="0.9"/>
<text x="200.90" y="524.92" font-family="Liberation Sans" font-size="5.9" text-anchor="middle" font-weight="normal" font-style="normal" fill="#222" stroke="#222" stroke-width="0.1">0.00</text>
<line x1="285.15" y1="511.8" x2="285.15" y2="515.0" stroke="#a2a2a2" stroke-width="0.9"/>
<text x="285.15" y="524.92" font-family="Liberation Sans" font-size="5.9" text-anchor="middle" font-weight="normal" font-style="normal" fill="#222" stroke="#222" stroke-width="0.1">0.05</text>
<line x1="369.40" y1="511.8" x2="369.40" y2="515.0" stroke="#a2a2a2" stroke-width="0.9"/>
<text x="369.40" y="524.92" font-family="Liberation Sans" font-size="5.9" text-anchor="middle" font-weight="normal" font-style="normal" fill="#222" stroke="#222" stroke-width="0.1">0.10</text>
<line x1="34.9" y1="307.82" x2="38.1" y2="307.82" stroke="#a2a2a2" stroke-width="0.9"/>
<text x="29.72" y="307.82" font-family="Liberation Sans" font-size="5.9" text-anchor="middle" font-weight="normal" font-style="normal" fill="#222" stroke="#222" stroke-width="0.1" transform="rotate(-90 29.724 307.82000000000005)">0.04</text>
<line x1="34.9" y1="344.96" x2="38.1" y2="344.96" stroke="#a2a2a2" stroke-width="0.9"/>
<text x="29.72" y="344.96" font-family="Liberation Sans" font-size="5.9" text-anchor="middle" font-weight="normal" font-style="normal" fill="#222" stroke="#222" stroke-width="0.1" transform="rotate(-90 29.724 344.96000000000004)">0.02</text>
<line x1="34.9" y1="382.10" x2="38.1" y2="382.10" stroke="#a2a2a2" stroke-width="0.9"/>
<text x="29.72" y="382.10" font-family="Liberation Sans" font-size="5.9" text-anchor="middle" font-weight="normal" font-style="normal" fill="#222" stroke="#222" stroke-width="0.1" transform="rotate(-90 29.724 382.1)">0.00</text>
<line x1="34.9" y1="419.24" x2="38.1" y2="419.24" stroke="#a2a2a2" stroke-width="0.9"/>
<text x="29.72" y="419.24" font-family="Liberation Sans" font-size="5.9" text-anchor="middle" font-weight="normal" font-style="normal" fill="#222" stroke="#222" stroke-width="0.1" transform="rotate(-90 29.724 419.24)">-0.02</text>
<line x1="34.9" y1="456.38" x2="38.1" y2="456.38" stroke="#a2a2a2" stroke-width="0.9"/>
<text x="29.72" y="456.38" font-family="Liberation Sans" font-size="5.9" text-anchor="middle" font-weight="normal" font-style="normal" fill="#222" stroke="#222" stroke-width="0.1" transform="rotate(-90 29.724 456.38)">-0.04</text>
<line x1="34.9" y1="493.52" x2="38.1" y2="493.52" stroke="#a2a2a2" stroke-width="0.9"/>
<text x="29.72" y="493.52" font-family="Liberation Sans" font-size="5.9" text-anchor="middle" font-weight="normal" font-style="normal" fill="#222" stroke="#222" stroke-width="0.1" transform="rotate(-90 29.724 493.52000000000004)">-0.06</text>
<text x="211.40" y="540.54" font-family="Liberation Sans" font-size="9.0" text-anchor="middle" font-weight="bold" font-style="normal" fill="#000">PC1: 58.67%</text>
<text x="15.04" y="399.90" font-family="Liberation Sans" font-size="9.0" text-anchor="middle" font-weight="bold" font-style="normal" fill="#000" transform="rotate(-90 15.040000000000001 399.9)">PC2: 25.11%</text>
<text letter-spacing="0.6" x="15.90" y="267.80" font-family="Liberation Serif" font-size="11.8" text-anchor="start" font-weight="normal" font-style="normal" fill="#111">a)</text>
<text letter-spacing="0.5" x="15.90" y="543.00" font-family="Liberation Serif" font-size="11.3" text-anchor="start" font-weight="normal" font-style="normal" fill="#111">b)</text>
</g></svg></body></html>
